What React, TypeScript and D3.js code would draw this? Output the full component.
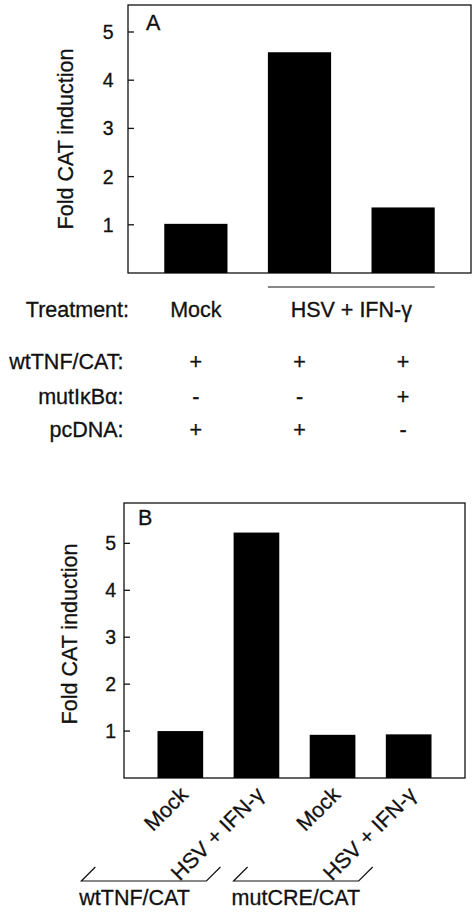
import * as d3 from 'd3';

// panel A
const barsA = ['Mock', 'HSV + IFN-γ', 'HSV + IFN-γ + mutIκBα'];
const valuesA = [1.02, 4.58, 1.36];
const treatmentsA = ['Mock', 'HSV + IFN-γ'];
const rowLabelsA = ['wtTNF/CAT:', 'mutIκBα:', 'pcDNA:'];
const rowSignsA = [
  ['+', '+', '+'],
  ['-', '-', '+'],
  ['+', '+', '-'],
];

// panel B
const barsB = ['Mock', 'HSV + IFN-γ', 'Mock ', 'HSV + IFN-γ '];
const labelsB = ['Mock', 'HSV + IFN-γ', 'Mock', 'HSV + IFN-γ'];
const valuesB = [1.0, 5.23, 0.92, 0.93];
const groupsB = ['wtTNF/CAT', 'mutCRE/CAT'];

const yTicks = [1, 2, 3, 4, 5];

const font = "'Liberation Sans', Arial, sans-serif";
const fs = 21.5;

function Frame({ x0, x1, y0, y1, y, tickX }: any) {
  return (
    <g>
      <rect x={x0} y={y0} width={x1 - x0} height={y1 - y0} fill="none" stroke="#111" strokeWidth={1.3} />
      {yTicks.map((t) => (
        <g key={t}>
          <line x1={x0} x2={x0 + 6} y1={y(t)} y2={y(t)} stroke="#111" strokeWidth={1.3} />
          <text x={tickX} y={y(t)} dy="0.36em" textAnchor="end" fontSize={19.5}>
            {t}
          </text>
        </g>
      ))}
    </g>
  );
}

export default function App() {
  // panel A scales
  const xA = d3.scaleBand<string>().domain(barsA).range([128, 471]).paddingInner(0.39).paddingOuter(0.35);
  const yA = d3.scaleLinear().domain([0, 5.56]).range([273, 5]);
  const cA = (i: number) => (xA(barsA[i]) as number) + xA.bandwidth() / 2;

  // panel B scales
  const xB = d3.scaleBand<string>().domain(barsB).range([124, 465]).paddingInner(0.4).paddingOuter(0.44);
  const yB = d3.scaleLinear().domain([0, 5.86]).range([778, 503]);
  const cB = (i: number) => (xB(barsB[i]) as number) + xB.bandwidth() / 2;

  const rowY = [369, 404, 437];

  return (
    <svg
      width={474}
      height={912}
      style={{ position: 'absolute', left: 0, top: 0, background: '#fff' }}
      fontFamily={font}
      fill="#111"
      stroke="#111"
      strokeWidth={0.3}
    >
      {/* Panel A */}
      <Frame x0={128} x1={471} y0={5} y1={273} y={yA} tickX={113.5} />
      {valuesA.map((v, i) => (
        <rect key={i} x={xA(barsA[i])} y={yA(v)} width={xA.bandwidth()} height={yA(0) - yA(v)} fill="#000" stroke="none" />
      ))}
      <text x={146} y={30} fontSize={fs}>A</text>
      <text transform="translate(73,139) rotate(-90)" textAnchor="middle" fontSize={fs}>
        Fold CAT induction
      </text>
      <line
        x1={xA(barsA[1])}
        x2={(xA(barsA[2]) as number) + xA.bandwidth()}
        y1={287}
        y2={287}
        stroke="#111"
        strokeWidth={1.2}
      />
      <text x={129} y={317} textAnchor="end" fontSize={fs}>Treatment:</text>
      <text x={cA(0)} y={317} textAnchor="middle" fontSize={fs}>{treatmentsA[0]}</text>
      <text x={(cA(1) + cA(2)) / 2} y={317} textAnchor="middle" fontSize={fs}>{treatmentsA[1]}</text>
      {rowLabelsA.map((label, r) => (
        <g key={label}>
          <text x={123.5} y={rowY[r]} textAnchor="end" fontSize={fs}>{label}</text>
          {rowSignsA[r].map((s, i) => (
            <text key={i} x={cA(i)} y={rowY[r]} textAnchor="middle" fontSize={fs}>{s}</text>
          ))}
        </g>
      ))}

      {/* Panel B */}
      <Frame x0={124} x1={465} y0={503} y1={778} y={yB} tickX={116} />
      {valuesB.map((v, i) => (
        <rect key={i} x={xB(barsB[i])} y={yB(v)} width={xB.bandwidth()} height={yB(0) - yB(v)} fill="#000" stroke="none" />
      ))}
      <text x={138} y={525} fontSize={fs}>B</text>
      <text transform="translate(77,634) rotate(-90)" textAnchor="middle" fontSize={fs}>
        Fold CAT induction
      </text>
      {labelsB.map((label, i) => (
        <text
          key={i}
          transform={`translate(${cB(i) + 9},${yB(0) + 18}) rotate(-45)`}
          textAnchor="end"
          fontSize={fs}
        >
          {label}
        </text>
      ))}
      {groupsB.map((g, k) => {
        const left = cB(k * 2) - 99;
        const right = cB(k * 2 + 1) - 50;
        const yb = 881;
        return (
          <g key={g}>
            <path
              d={`M${left + 14},${yb - 14}L${left},${yb}L${right},${yb}L${right + 14},${yb - 14}`}
              fill="none"
              stroke="#111"
              strokeWidth={1.2}
            />
            <text x={left - 2} y={905} fontSize={fs}>{g}</text>
          </g>
        );
      })}
    </svg>
  );
}
